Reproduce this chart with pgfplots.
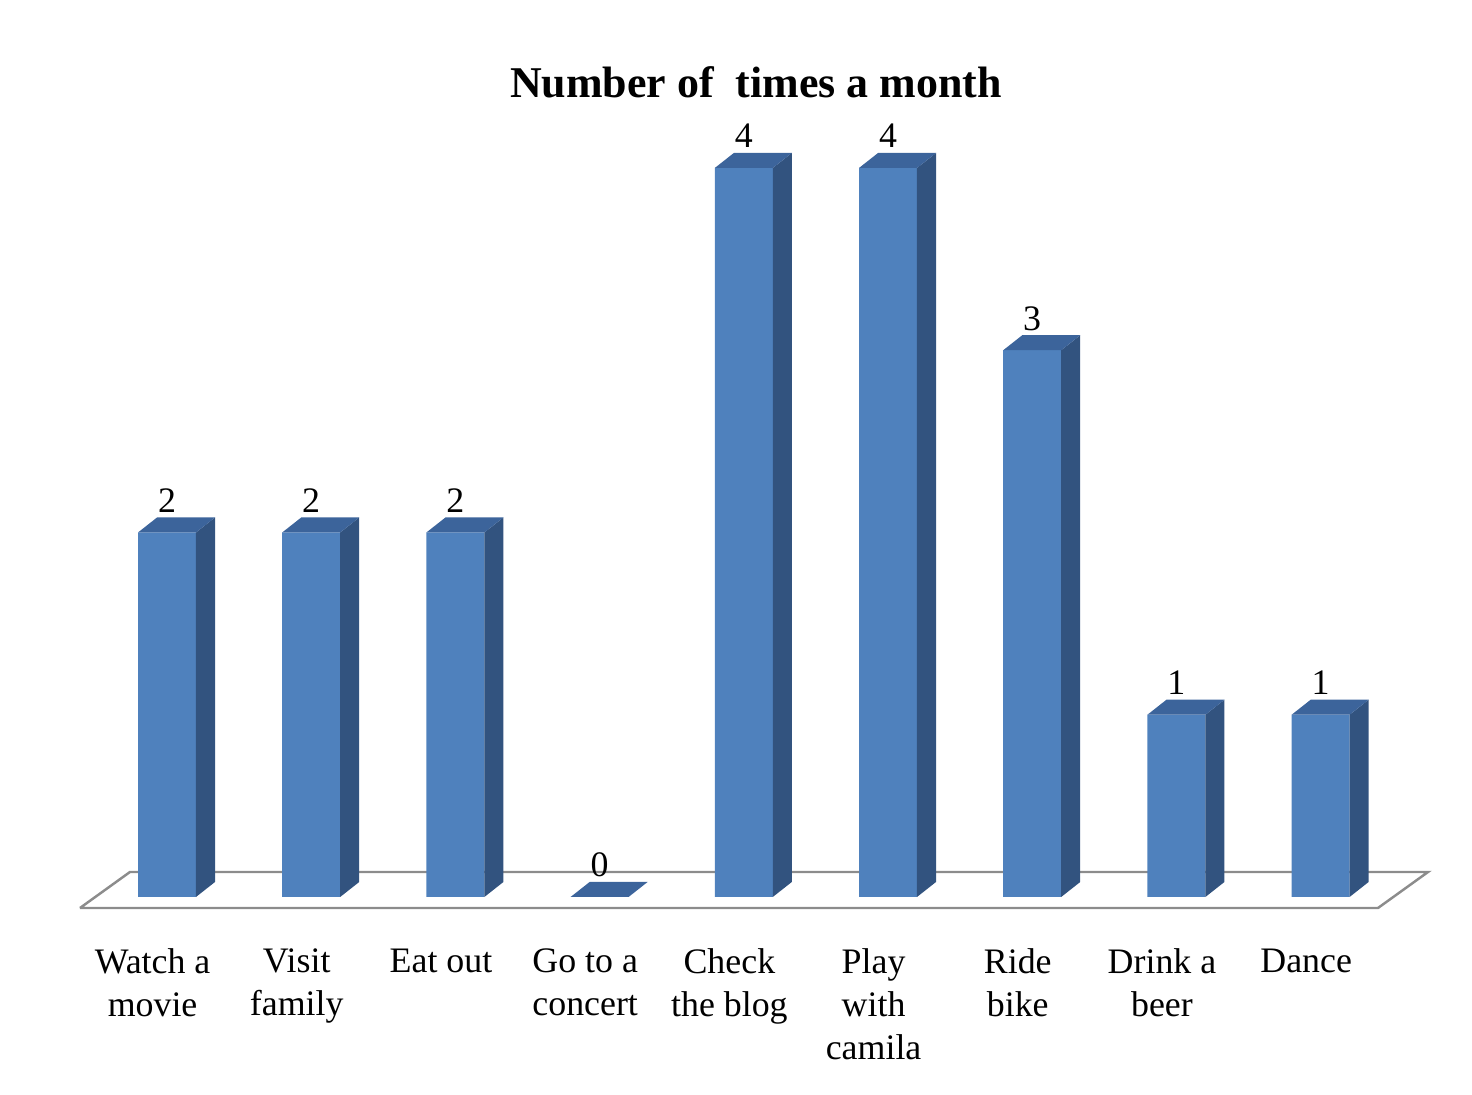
\documentclass[border=0pt]{standalone}
\usepackage{pgfplots}
\pgfplotsset{compat=1.18}
\usepackage{fontspec}
\setmainfont{Liberation Serif}
\definecolor{front}{HTML}{4F81BD}
\definecolor{side}{HTML}{32537F}
\definecolor{topc}{HTML}{3C649B}
\definecolor{floorc}{HTML}{8C8C8C}
\tikzset{catlab/.style={anchor=north, align=center, inner sep=0pt, font=\fontsize{10.2}{12.2}\selectfont}}
\begin{document}
\begin{tikzpicture}
\begin{axis}[
  at={(0,0)}, anchor=south west,
  width=14.72cm, height=10.95cm, scale only axis,
  xmin=-1.158, xmax=9.050, ymin=-1.0864, ymax=4.9218,
  axis lines=none, clip=false,
  xtick=\empty, ytick=\empty,
  /pgf/number format/assume math mode=true,
  sidef/.style={fill=side, draw=none, forget plot},
  topf/.style={fill=topc, draw=none, forget plot},
]
\path (rel axis cs:0,0) rectangle (rel axis cs:1,1);
% floor
\addplot[draw=floorc, line width=0.7pt, forget plot] coordinates {(-0.6033,-0.0604) (8.398,-0.0604) (8.745,0.1372) (-0.2566,0.1372) (-0.6033,-0.0604)};
% front faces
\addplot[ybar, bar width=0.402, fill=front, draw=none,
  nodes near coords,
  every node near coord/.append style={anchor=base, yshift=0.2cm, font=\fontsize{10.2}{12}\selectfont, text=black}]
  coordinates {(0,2) (1,2) (2,2) (3,0) (4,4) (5,4) (6,3) (7,1) (8,1)};
% side faces
\addplot[sidef] coordinates {(0.201,0) (0.201,2) (0.333,2.0823) (0.333,0.0823)} -- cycle;
\addplot[sidef] coordinates {(1.201,0) (1.201,2) (1.333,2.0823) (1.333,0.0823)} -- cycle;
\addplot[sidef] coordinates {(2.201,0) (2.201,2) (2.333,2.0823) (2.333,0.0823)} -- cycle;
\addplot[sidef] coordinates {(4.201,0) (4.201,4) (4.333,4.0823) (4.333,0.0823)} -- cycle;
\addplot[sidef] coordinates {(5.201,0) (5.201,4) (5.333,4.0823) (5.333,0.0823)} -- cycle;
\addplot[sidef] coordinates {(6.201,0) (6.201,3) (6.333,3.0823) (6.333,0.0823)} -- cycle;
\addplot[sidef] coordinates {(7.201,0) (7.201,1) (7.333,1.0823) (7.333,0.0823)} -- cycle;
\addplot[sidef] coordinates {(8.201,0) (8.201,1) (8.333,1.0823) (8.333,0.0823)} -- cycle;
% top faces
\addplot[topf] coordinates {(-0.201,2) (0.201,2) (0.333,2.0823) (-0.069,2.0823)} -- cycle;
\addplot[topf] coordinates {(0.799,2) (1.201,2) (1.333,2.0823) (0.931,2.0823)} -- cycle;
\addplot[topf] coordinates {(1.799,2) (2.201,2) (2.333,2.0823) (1.931,2.0823)} -- cycle;
\addplot[topf] coordinates {(2.799,0) (3.201,0) (3.333,0.0823) (2.931,0.0823)} -- cycle;
\addplot[topf] coordinates {(3.799,4) (4.201,4) (4.333,4.0823) (3.931,4.0823)} -- cycle;
\addplot[topf] coordinates {(4.799,4) (5.201,4) (5.333,4.0823) (4.931,4.0823)} -- cycle;
\addplot[topf] coordinates {(5.799,3) (6.201,3) (6.333,3.0823) (5.931,3.0823)} -- cycle;
\addplot[topf] coordinates {(6.799,1) (7.201,1) (7.333,1.0823) (6.931,1.0823)} -- cycle;
\addplot[topf] coordinates {(7.799,1) (8.201,1) (8.333,1.0823) (7.931,1.0823)} -- cycle;
% title
\node[font=\fontsize{12.5}{15}\selectfont\bfseries, anchor=base] at (axis cs:4.085,4.384) {Number of\ \ times a month};
% category labels
\node[catlab] at (axis cs:-0.1,-0.28) {Watch a\\movie};
\node[catlab] at (axis cs:0.9,-0.28) {Visit\\family};
\node[catlab] at (axis cs:1.9,-0.28) {Eat out};
\node[catlab] at (axis cs:2.9,-0.28) {Go to a\\concert};
\node[catlab] at (axis cs:3.9,-0.28) {Check\\the blog};
\node[catlab] at (axis cs:4.9,-0.28) {Play\\with\\camila};
\node[catlab] at (axis cs:5.9,-0.28) {Ride\\bike};
\node[catlab] at (axis cs:6.9,-0.28) {Drink a\\beer};
\node[catlab] at (axis cs:7.9,-0.28) {Dance};
\end{axis}
\end{tikzpicture}
\end{document}
